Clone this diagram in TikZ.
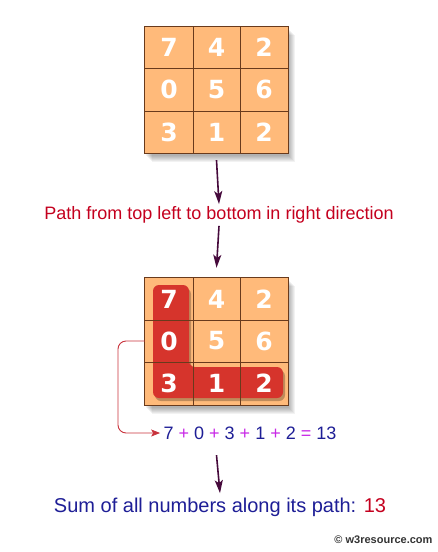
\documentclass[tikz,border=0pt]{standalone}
\usepackage{fontspec}
\setmainfont{Liberation Sans}
\newfontfamily\digitfont{DejaVu Sans}
\usetikzlibrary{arrows.meta}
\definecolor{cellfill}{RGB}{255,186,122}
\definecolor{gridline}{RGB}{105,58,28}
\definecolor{pathred}{RGB}{214,52,44}
\definecolor{arrowcol}{RGB}{70,10,60}
\definecolor{titlered}{RGB}{196,0,30}
\definecolor{numblue}{RGB}{30,30,150}
\definecolor{plusviolet}{RGB}{200,40,230}
\definecolor{linkred}{RGB}{200,50,60}

\begin{document}
\begin{tikzpicture}[x=1pt,y=-1pt,
    cell/.style ={fill=cellfill, draw=gridline, line width=0.9pt},
    digit/.style ={text=white, inner sep=0pt, font=\digitfont\fontsize{25}{25}\selectfont\bfseries},
    flow/.style ={draw=arrowcol, line width=1.6pt, -{Stealth[length=13pt,width=8pt,inset=3pt]}}]
   \useasboundingbox (0,0) rectangle (437,552);

   % top grid
   \node[minimum width=143pt, minimum height=126pt, inner sep=0pt] (gridA) at (216.5,90) {};
   \foreach \s in {1,...,7}
     \fill[black, opacity=0.05] (145+\s,27+\s+1) rectangle (288+\s,153+\s+2);
   \draw[cell] (gridA.north west) rectangle (gridA.south east);
   \draw[gridline, line width=0.9pt] (193,27) -- (193,153) (240,27) -- (240,153)
        (145,68) -- (288,68) (145,111) -- (288,111);
   \node[digit] (a1) at (169,47.5) {7};
   \node[digit] (a2) at (216.5,47.5) {4};
   \node[digit] (a3) at (264,47.5) {2};
   \node[digit] (a4) at (169,89.5) {0};
   \node[digit] (a5) at (216.5,89.5) {5};
   \node[digit] (a6) at (264,89.5) {6};
   \node[digit] (a7) at (169,132) {3};
   \node[digit] (a8) at (216.5,132) {1};
   \node[digit] (a9) at (264,132) {2};

   \node[text=titlered, font=\fontsize{18}{20}\selectfont] (rule) at (219,215)
        {Path from top left to bottom in right direction};

   % bottom grid with the path
   \node[minimum width=143pt, minimum height=127pt, inner sep=0pt] (gridB) at (216.5,341.5) {};
   \foreach \s in {1,...,7}
     \fill[black, opacity=0.05] (145+\s,278+\s+1) rectangle (288+\s,405+\s+2);
   \draw[cell] (gridB.north west) rectangle (gridB.south east);
   \fill[black, opacity=0.25, rounded corners=6pt] (155,288) -- (191,288) -- (191,370)
        -- (285,370) -- (285,401) -- (155,401) -- cycle;
   \fill[pathred, rounded corners=6pt] (153,285) -- (189,285) -- (189,367)
        -- (283,367) -- (283,398) -- (153,398) -- cycle;
   \draw[gridline, line width=0.9pt] (193,278) -- (193,405) (240,278) -- (240,405)
        (145,320) -- (288,320) (145,362) -- (288,362);
   \node[digit] (b1) at (169,299) {7};
   \node[digit] (b2) at (216.5,299) {4};
   \node[digit] (b3) at (264,299) {2};
   \node[digit] (b4) at (169,341) {0};
   \node[digit] (b5) at (216.5,341) {5};
   \node[digit] (b6) at (264,341) {6};
   \node[digit] (b7) at (169,383.5) {3};
   \node[digit] (b8) at (216.5,383.5) {1};
   \node[digit] (b9) at (264,383.5) {2};

   \node[font=\fontsize{18}{20}\selectfont, text=numblue] (sum) at (250,433)
        {7 \textcolor{plusviolet}{+} 0 \textcolor{plusviolet}{+} 3 \textcolor{plusviolet}{+} 1
         \textcolor{plusviolet}{+} 2 \textcolor{plusviolet}{=} 13};
   \node[font=\fontsize{20}{22}\selectfont, text=numblue] (result) at (220,507)
        {Sum of all numbers along its path: \textcolor{titlered}{13}};
   \node[font=\fontsize{11}{12}\selectfont\bfseries, text=black!80, anchor=east] (credit) at (436,540)
        {\textcopyright\ w3resource.com};

   \draw[flow] ([yshift=-7pt]gridA.south) -- ([yshift=-1pt]rule.north);
   \draw[flow] ([yshift=1pt]rule.south) -- ([yshift=10pt]gridB.north);
   \draw[linkred, line width=0.9pt, rounded corners=8pt, -{Stealth[length=9pt,width=7pt,inset=2pt]}]
        (gridB.west |- b4) -- (118,341) -- (118,433) -- (sum.west);
   \draw[flow] ([yshift=-50pt]gridB.south) -- ([yshift=1pt]result.north);

\end{tikzpicture}
\end{document}
